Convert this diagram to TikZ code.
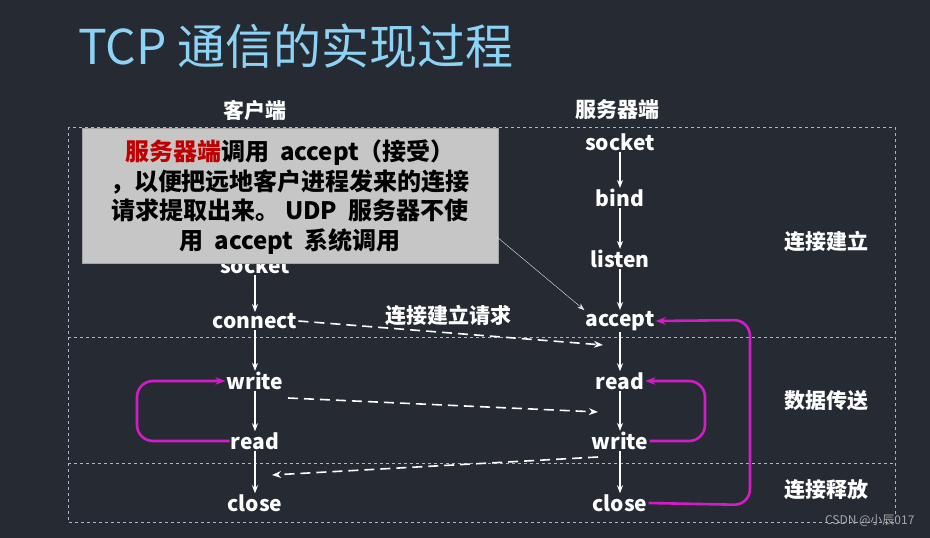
\documentclass[tikz,border=0pt]{standalone}
\usepackage{fontspec}
\setmainfont{Noto Sans CJK SC}
\usetikzlibrary{arrows.meta}
\definecolor{bg}{HTML}{262A33}
\definecolor{ttl}{HTML}{8CD3F5}
\definecolor{dashc}{HTML}{9FB8D0}
\definecolor{mag}{HTML}{D21CC8}
\begin{document}
\begin{tikzpicture}[x=1pt,y=-1pt,
 lbl/.style={text=white,font=\fontsize{21}{23}\selectfont\bfseries,inner sep=1pt},
 flow/.style={white,line width=1.4pt,-{Stealth[length=8pt]}},
 msg/.style={white,line width=1.6pt,dash pattern=on 10pt off 6pt,-{Stealth[length=9pt]}},
 loop/.style={mag,line width=2.6pt,-{Stealth[length=10pt]},rounded corners=16pt}]
\fill[bg] (0,0) rectangle (930,538);
\useasboundingbox (0,0) rectangle (930,538);
\node[text=ttl,font=\fontsize{48}{52}\selectfont,anchor=west] (title) at (75,46) {TCP 通信的实现过程};
\draw[dashc,dashed] (68,127) rectangle (895,522);
\draw[dashc,dashed] (68,337) -- (895,337);
\draw[dashc,dashed] (68,463) -- (895,463);
\node[lbl] (ch) at (255,110) {客户端};
\node[lbl] (sh) at (617,110) {服务器端};
\node[lbl] (c1) at (255,265) {socket};
\node[lbl] (c2) at (255,321) {connect};
\node[lbl] (c3) at (255,381) {write};
\node[lbl] (c4) at (255,441) {read};
\node[lbl] (c5) at (255,503) {close};
\node[lbl] (s1) at (620,142) {socket};
\node[lbl] (s2) at (620,198) {bind};
\node[lbl] (s3) at (620,259) {listen};
\node[lbl] (s4) at (620,321) {accept};
\node[lbl] (s5) at (620,381) {read};
\node[lbl] (s6) at (620,441) {write};
\node[lbl] (s7) at (620,503) {close};
\node[lbl] (r1) at (826,241) {连接建立};
\node[lbl] (r2) at (826,401) {数据传送};
\node[lbl] (r3) at (826,490) {连接释放};
\node[lbl] (req) at (448,315) {连接建立请求};
\foreach \a/\b in {c1/c2,c2/c3,c3/c4,c4/c5,s1/s2,s2/s3,s3/s4,s4/s5,s5/s6,s6/s7}
  \draw[flow] (\a) -- (\b);
\coordinate (m1) at (603,345);
\draw[msg] (c2.east) -- (m1);
\coordinate (m2) at (598,412);
\draw[msg] (288,398) -- (m2);
\coordinate (m3) at (272,475);
\draw[msg] (598,457) -- (m3);
\draw[loop] (c4.west) -- (137,441) -- (137,381) -- (c3.west);
\draw[loop] (s6.east) -- (705,441) -- (705,381) -- (s5.east);
\draw[loop] (s7.east) -- (750,505) -- (750,320) -- (s4.east);
\node[fill=gray!45,draw=gray!70,minimum width=416pt,minimum height=135pt,anchor=north west] (box) at (82,128) {};
\node[font=\fontsize{24}{29.5}\selectfont\bfseries,align=center,text=black] (bt) at (290,197)
 {{\color[HTML]{C00000}服务器端}调用\ \ accept（接受）\\，以便把远地客户进程发来的连接\\请求提取出来。\ UDP\ \ 服务器不使\\用\ \ accept\ \ 系统调用};
\coordinate (bp) at (497,237);
\draw[white!80!gray,thin,-{Stealth[length=7pt]}] (bp) -- (s4.north west);
\node[text=gray!70,font=\fontsize{12}{13}\selectfont,anchor=east] (wm) at (918,521) {CSDN @小辰017};
\end{tikzpicture}
\end{document}
